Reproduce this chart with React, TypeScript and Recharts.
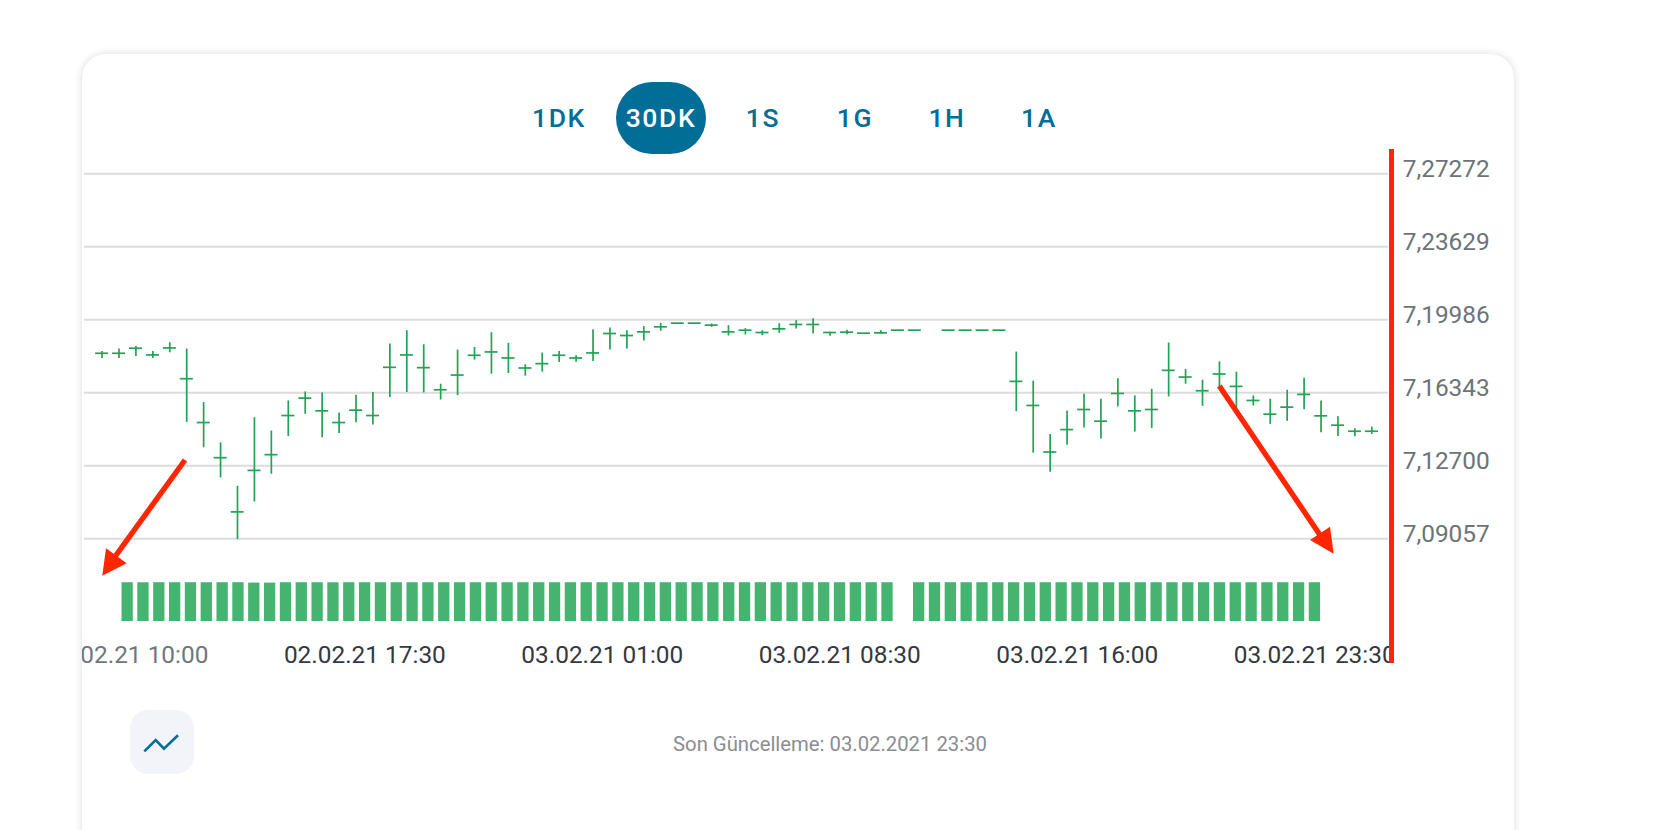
import { Bar, CartesianGrid, ComposedChart, Line, XAxis, YAxis } from "recharts";

const times = [
  "02.02.21 10:00", "02.02.21 10:30", "02.02.21 11:00", "02.02.21 11:30", "02.02.21 12:00", "02.02.21 12:30",
  "02.02.21 13:00", "02.02.21 13:30", "02.02.21 14:00", "02.02.21 14:30", "02.02.21 15:00", "02.02.21 15:30",
  "02.02.21 16:00", "02.02.21 16:30", "02.02.21 17:00", "02.02.21 17:30", "02.02.21 18:00", "02.02.21 18:30",
  "02.02.21 19:00", "02.02.21 19:30", "02.02.21 20:00", "02.02.21 20:30", "02.02.21 21:00", "02.02.21 21:30",
  "02.02.21 22:00", "02.02.21 22:30", "02.02.21 23:00", "02.02.21 23:30", "03.02.21 00:00", "03.02.21 00:30",
  "03.02.21 01:00", "03.02.21 01:30", "03.02.21 02:00", "03.02.21 02:30", "03.02.21 03:00", "03.02.21 03:30",
  "03.02.21 04:00", "03.02.21 04:30", "03.02.21 05:00", "03.02.21 05:30", "03.02.21 06:00", "03.02.21 06:30",
  "03.02.21 07:00", "03.02.21 07:30", "03.02.21 08:00", "03.02.21 08:30", "03.02.21 09:00", "03.02.21 09:30",
  "03.02.21 10:00", "03.02.21 10:30", "03.02.21 11:00", "03.02.21 11:30", "03.02.21 12:00", "03.02.21 12:30",
  "03.02.21 13:00", "03.02.21 13:30", "03.02.21 14:00", "03.02.21 14:30", "03.02.21 15:00", "03.02.21 15:30",
  "03.02.21 16:00", "03.02.21 16:30", "03.02.21 17:00", "03.02.21 17:30", "03.02.21 18:00", "03.02.21 18:30",
  "03.02.21 19:00", "03.02.21 19:30", "03.02.21 20:00", "03.02.21 20:30", "03.02.21 21:00", "03.02.21 21:30",
  "03.02.21 22:00", "03.02.21 22:30", "03.02.21 23:00", "03.02.21 23:30",
];

const highs = [
  7.18429, 7.18546, 7.1868, 7.18429, 7.18863, 7.18546, 7.15873, 7.13869, 7.11698, 7.15122,
  7.14454, 7.15957, 7.16408, 7.16358, 7.15356, 7.16241, 7.16375, 7.18797, 7.19465, 7.18763,
  7.16792, 7.18496, 7.18629, 7.19364, 7.1883, 7.17761, 7.18346, 7.18429, 7.18212, 7.19515,
  7.19598, 7.19465, 7.19665, 7.19832, 7.19815, 7.19815, 7.19799, 7.19715, 7.19565, 7.19465,
  7.19815, 7.19966, 7.20066, 7.19381, 7.19481, 7.19314, 7.19465, 7.19465, 7.19465, null,
  7.19465, 7.19465, 7.19465, 7.19465, 7.18396, 7.16943, 7.14287, 7.15456, 7.16291, 7.16041,
  7.1706, 7.16208, 7.16542, 7.18847, 7.17527, 7.16993, 7.17911, 7.17394, 7.16208, 7.16041,
  7.16492, 7.17093, 7.15958, 7.15173, 7.14571, 7.14655,
];

const closes = [
  7.18312, 7.18312, 7.18563, 7.18229, 7.18579, 7.17043, 7.14855, 7.13101, 7.10395, 7.12466,
  7.13251, 7.15205, 7.16074, 7.15439, 7.14855, 7.15473, 7.15205, 7.17611, 7.18229, 7.17594,
  7.16491, 7.17226, 7.18212, 7.18379, 7.18078, 7.17577, 7.17794, 7.18212, 7.18078, 7.18329,
  7.19298, 7.19197, 7.19381, 7.19632, 7.19815, 7.19815, 7.19715, 7.19381, 7.19465, 7.19348,
  7.19531, 7.19749, 7.19749, 7.19348, 7.19364, 7.19314, 7.19331, 7.19465, 7.19465, null,
  7.19465, 7.19465, 7.19465, 7.19465, 7.16909, 7.15707, 7.13385, 7.14504, 7.15506, 7.14922,
  7.16308, 7.15439, 7.15506, 7.1746, 7.17126, 7.16442, 7.17277, 7.16659, 7.15957, 7.15273,
  7.15624, 7.16258, 7.15189, 7.14722, 7.14421, 7.14421,
];

const lows = [
  7.18078, 7.18078, 7.18178, 7.18078, 7.18362, 7.14888, 7.13619, 7.12115, 7.09042, 7.10913,
  7.12299, 7.14186, 7.15289, 7.1412, 7.14337, 7.14871, 7.14754, 7.16124, 7.16375, 7.16358,
  7.16007, 7.16224, 7.17995, 7.17293, 7.17327, 7.17193, 7.17393, 7.17878, 7.17895, 7.17928,
  7.18496, 7.18546, 7.18947, 7.19431, 7.19815, 7.19815, 7.19632, 7.19197, 7.19248, 7.19214,
  7.19331, 7.19548, 7.19298, 7.19181, 7.19264, 7.19314, 7.19298, 7.19465, 7.19465, null,
  7.19465, 7.19465, 7.19465, 7.19465, 7.15423, 7.13352, 7.12399, 7.13752, 7.14604, 7.14053,
  7.15657, 7.14404, 7.14588, 7.16158, 7.16792, 7.1569, 7.16542, 7.1554, 7.15707, 7.14788,
  7.14939, 7.15523, 7.14371, 7.14187, 7.1417, 7.14287,
];

const volumes = [
  100, 100, 100, 100, 100, 100, 100, 100, 99, 99, 100, 100, 100, 100, 100, 100, 100, 100, 100,
  100, 100, 100, 100, 100, 100, 100, 100, 100, 100, 100, 100, 100, 100, 100, 100, 100, 100, 100,
  100, 100, 100, 100, 100, 100, 100, 100, 100, 100, 100, null, 100, 100, 100, 100, 100, 100, 100,
  100, 100, 100, 100, 100, 100, 100, 100, 100, 100, 100, 100, 100, 100, 100, 100, 100, 100, 100,
];

const priceTicks = [7.27272, 7.23629, 7.19986, 7.16343, 7.127, 7.09057];
const timeTicks = [
  "02.02.21 10:00", "02.02.21 17:30", "03.02.21 01:00",
  "03.02.21 08:30", "03.02.21 16:00", "03.02.21 23:30",
];
const periods = ["1DK", "30DK", "1S", "1G", "1H", "1A"];
const periodCenters = [559, 661, 763, 855, 947, 1039];

const BLUE = "#006e96";
const GREEN = "#22a254";
const RED = "#ff2600";

const rows = times.map((time, i) => ({
  time,
  range: highs[i] === null ? null : [lows[i], highs[i]],
  close: closes[i],
  volume: volumes[i],
}));

function CloseTick({ cx, cy }: { cx?: number; cy?: number | null }) {
  if (cx == null || cy == null) return null;
  return <line x1={cx - 6.5} x2={cx + 6.5} y1={cy} y2={cy} stroke={GREEN} strokeWidth={1.7} />;
}

function renderTimeTick({ x, y, payload, index }: any) {
  return (
    <g>
      <text
        x={x}
        y={y + 4}
        textAnchor="middle"
        fontFamily="Roboto"
        fontSize={24.4}
        style={{ fill: index === 0 ? "#6f777c" : "#33393f" }}
      >
        {payload.value}
      </text>
    </g>
  );
}

export default function App() {
  return (
    <div style={{ position: "fixed", left: 0, top: 0, width: 1676, height: 830, overflow: "hidden", background: "#fff", fontFamily: "Roboto" }}>
      <div
        style={{
          position: "absolute",
          left: 82,
          top: 54,
          width: 1432,
          height: 900,
          background: "#fff",
          borderRadius: 24,
          boxShadow: "0 0 8px rgba(0,0,0,0.14)",
          overflow: "hidden",
        }}
      >
        <div style={{ position: "absolute", left: 0, top: 96 }}>
          <ComposedChart width={1432} height={541} data={rows} margin={{ top: 0, right: 0, bottom: 0, left: 2 }}>
            <CartesianGrid vertical={false} syncWithTicks xAxisId="price" yAxisId="price" stroke="#dcdcdc" strokeWidth={1.9} />
            <XAxis xAxisId="price" dataKey="time" hide padding={{ left: 9.2, right: 8.1 }} />
            <XAxis
              xAxisId="volume"
              dataKey="time"
              height={70}
              axisLine={false}
              tickLine={false}
              ticks={timeTicks}
              interval={0}
              tick={renderTimeTick}
              padding={{ left: 35.5, right: 65.4 }}
            />
            <YAxis
              yAxisId="price"
              orientation="right"
              width={126}
              domain={[7.0495, 7.28457]}
              allowDataOverflow
              ticks={priceTicks}
              interval={0}
              axisLine={false}
              tickLine={false}
              tickSize={0}
              tickMargin={14.7}
              tick={{ fill: "#6b7478", fontSize: 24.4, fontFamily: "Roboto", dy: -5 }}
              tickFormatter={(v: number) => v.toFixed(5).replace(".", ",")}
            />
            <YAxis yAxisId="volume" hide domain={[0, 1214]} />
            <Bar xAxisId="volume" yAxisId="volume" dataKey="volume" fill="#46b471" barSize={11.3} isAnimationActive={false} />
            <Bar xAxisId="price" yAxisId="price" dataKey="range" fill={GREEN} barSize={1.7} isAnimationActive={false} />
            <Line
              xAxisId="price"
              yAxisId="price"
              dataKey="close"
              stroke="none"
              dot={<CloseTick />}
              activeDot={false}
              isAnimationActive={false}
            />
          </ComposedChart>
        </div>
      </div>

      <div style={{ position: "absolute", left: 616, top: 81.7, width: 90, height: 72, borderRadius: 36, background: BLUE }} />
      {periods.map((label, i) => (
        <div
          key={label}
          style={{
            position: "absolute",
            left: periodCenters[i] - 60,
            width: 120,
            top: 100,
            height: 36,
            lineHeight: "36px",
            textAlign: "center",
            fontSize: 26.5,
            fontWeight: 500,
            letterSpacing: 1.6,
            color: i === 1 ? "#fff" : BLUE,
          }}
        >
          {label}
        </div>
      ))}

      <div style={{ position: "absolute", left: 130, top: 710, width: 64, height: 64, borderRadius: 18, background: "#f3f4f9" }} />
      <div
        style={{
          position: "absolute",
          left: 580,
          width: 500,
          top: 732,
          height: 24,
          lineHeight: "24px",
          textAlign: "center",
          fontSize: 20.3,
          color: "#8a8d91",
        }}
      >
        Son Güncelleme: 03.02.2021 23:30
      </div>

      <svg width={1676} height={830} style={{ position: "absolute", left: 0, top: 0, pointerEvents: "none" }}>
        <polyline points="144.3,751.3 155.7,740 164,748.7 178,735.3" fill="none" stroke={BLUE} strokeWidth={2.6} />
        <rect x={1394} y={630} width={8} height={45} fill="#fff" />
        <rect x={1389} y={149} width={5} height={514} fill={RED} />
        <line x1={185} y1={460} x2={114} y2={558} stroke={RED} strokeWidth={5.4} />
        <polygon points="102.3,575.7 106,548.3 126.7,563.3" fill={RED} />
        <line x1={1219.3} y1={386} x2={1320} y2={535} stroke={RED} strokeWidth={5.4} />
        <polygon points="1333.7,553.7 1310,540 1330,526.7" fill={RED} />
      </svg>
    </div>
  );
}
